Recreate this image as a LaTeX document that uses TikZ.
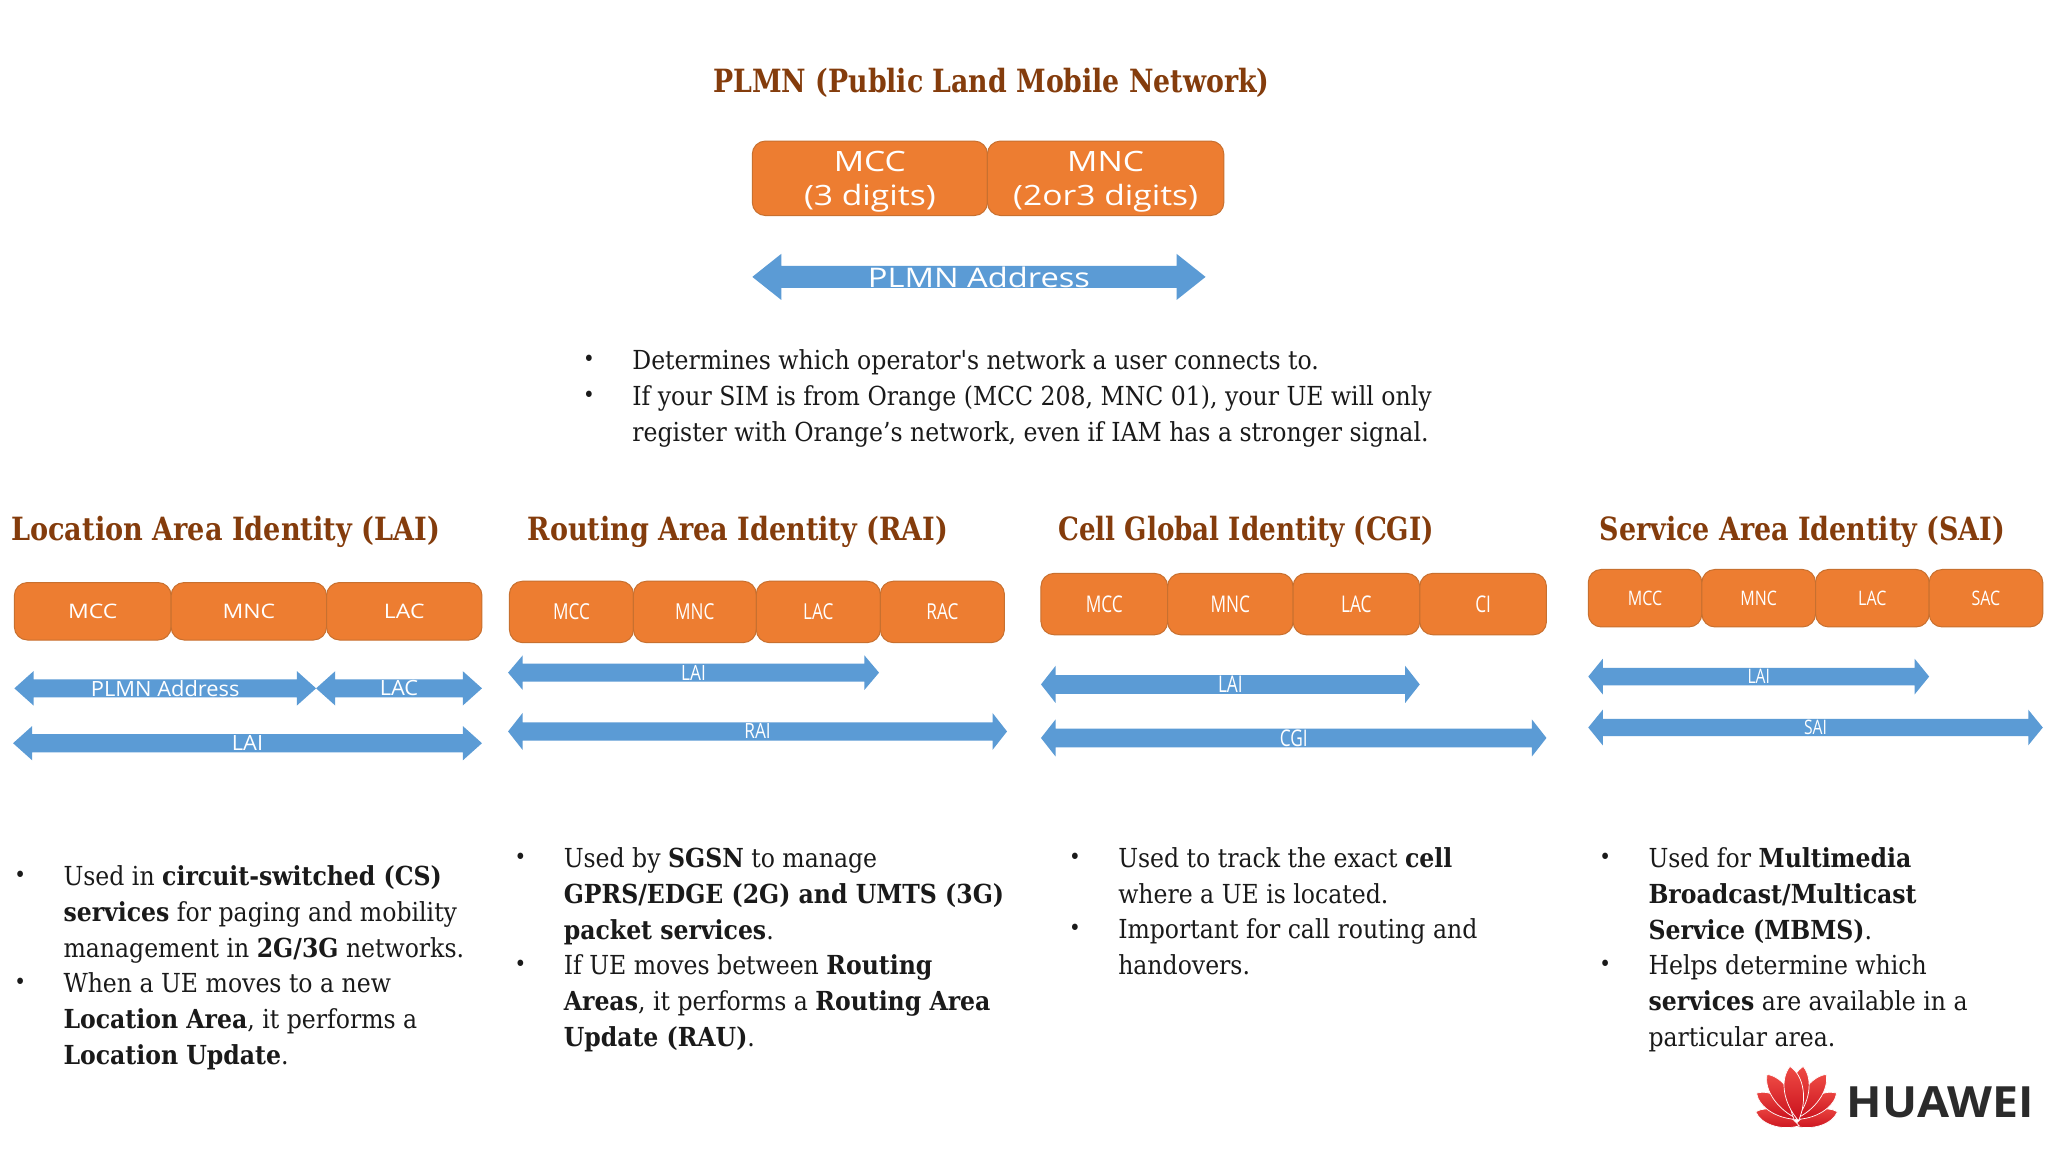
\documentclass[tikz,border=0pt]{standalone}
\usepackage{fontspec}
\usetikzlibrary{shapes.arrows}
\setmainfont{DejaVu Serif Condensed}[BoldFont={DejaVu Serif Condensed Bold}]
\setsansfont{Open Sans}
\definecolor{boxfill}{HTML}{ED7D31}
\definecolor{boxline}{HTML}{C8702F}
\definecolor{arrowfill}{HTML}{5B9BD5}
\definecolor{headcol}{HTML}{843C0C}
\definecolor{bodycol}{HTML}{1A1A1A}
\definecolor{logored}{HTML}{C9101C}
\definecolor{logotip}{HTML}{EE4A44}
\definecolor{logotext}{HTML}{2B2B2B}
\newcommand{\bodyfont}{\fontsize{26.2}{35.8}\selectfont}
\newcommand{\headfont}{\fontsize{32}{38}\selectfont\bfseries}
\tikzset{
  x=1.306122pt,y=-1.306122pt,
  orangebox/.style={draw=boxline,line width=1pt,fill=boxfill,rounded corners=13pt,inner sep=0pt,text=white,font=\sffamily,align=center},
  dblarrow/.style={shape=double arrow,fill=arrowfill,inner xsep=0pt,draw=none},
  arrowlabel/.style={text=white,font=\sffamily,inner sep=0pt},
  bodytext/.style={anchor=north west,inner sep=0pt,align=left,font=\bodyfont,text=bodycol},
  bulletmark/.style={anchor=base,inner sep=0pt,font=\fontsize{22}{22}\selectfont,text=bodycol},
  headtext/.style={anchor=base west,inner sep=0pt,font=\headfont,text=headcol},
}
% name x1 x2 y1 y2 font xscale text
\newcommand{\bx}[8]{\node[orangebox,minimum width={(#3-#2)*1.306122pt},minimum height={(#5-#4)*1.306122pt}] (#1) at ({(#2+#3)/2},{(#4+#5)/2}) {\fontsize{#6}{#6}\selectfont\scalebox{#7}[1]{#8}};}
% name x1 x2 y halfhead shafthalf headlen fontsize xscale label
\newcommand{\arw}[9]{%
 \pgfmathsetmacro{\tipang}{2*atan(#5/#7)}%
 \node[dblarrow,minimum height={(#3-#2)*1.306122pt},inner ysep={#6*1.306122pt},double arrow head extend={(#5-#6)*1.306122pt},double arrow tip angle=\tipang] (#1) at ({(#2+#3)/2},#4) {};%
 \arwlabel{#1}{#8}{#9}}
\newcommand{\arwlabel}[3]{\def\argA{#1}\def\argB{#2}\def\argC{#3}\arwlabelB}
\newcommand{\arwlabelB}[1]{\node[arrowlabel] (\argA-label) at (\argA.center) {\fontsize{\argB}{\argB}\selectfont\scalebox{\argC}[1]{#1}};}
% name x ybase text
\newcommand{\para}[4]{\node[bulletmark] (#1-b) at ({#2-33},{#3-2.5}) {•};\node[bodytext] (#1) at (#2,{#3-15.2}) {#4};}
\begin{document}
\begin{tikzpicture}
\useasboundingbox (0,0) rectangle (1568,882);
\fill[white] (0,0) rectangle (1568,882);
% Titles
\node[headtext] (titlemain) at (546,71) {\scalebox{.93}[1]{PLMN (Public Land Mobile Network)}};
\node[headtext] (titlelai) at (8.5,414) {\scalebox{.942}[1]{Location Area Identity (LAI)}};
\node[headtext] (titlerai) at (404,414) {\scalebox{.938}[1]{Routing Area Identity (RAI)}};
\node[headtext] (titlecgi) at (810,414) {\scalebox{.91}[1]{Cell Global Identity (CGI)}};
\node[headtext] (titlesai) at (1224.5,414) {\scalebox{.936}[1]{Service Area Identity (SAI)}};
% PLMN
\node[orangebox,minimum width={180*1.306122pt},minimum height={57*1.306122pt},font=\sffamily\fontsize{28}{34}\selectfont] (pmcc) at (666,136.5) {\rule{0pt}{27pt}\scalebox{1.2}[1]{MCC}\\\scalebox{1.2}[1]{(3 digits)}};
\node[orangebox,minimum width={181*1.306122pt},minimum height={57*1.306122pt},font=\sffamily\fontsize{28}{34}\selectfont] (pmnc) at (846.5,136.5) {\rule{0pt}{27pt}\scalebox{1.2}[1]{MNC}\\\scalebox{1.2}[1]{(2or3 digits)}};
\arw{parrow}{576}{923}{212}{17.5}{8.3}{22}{27}{1.21}{PLMN Address}
\para{p1}{484}{283}{Determines which operator\textquotesingle s network a user connects to.}
\para{p2}{484}{310.5}{If your SIM is from Orange (MCC 208, MNC 01), your UE will only\\register with Orange’s network, even if IAM has a stronger signal.}
% LAI
\bx{lmcc}{11}{131}{446}{490}{20}{1.15}{MCC}
\bx{lmnc}{131}{250}{446}{490}{20}{1.15}{MNC}
\bx{llac}{250}{369}{446}{490}{20}{1.15}{LAC}
\arw{lplmn}{11}{242}{527}{13}{6.8}{14.5}{21}{1.04}{PLMN Address}
\arw{llacar}{242}{369}{527}{13}{6.8}{14.5}{21}{1.04}{LAC}
\arw{llai}{10}{369}{569}{13}{6.8}{14.5}{21}{1.04}{LAI}
\para{l1}{48.5}{678}{Used in \textbf{circuit-switched (CS)}\\\textbf{services} for paging and mobility\\management in \textbf{2G/3G} networks.}
\para{l2}{48.5}{760}{When a UE moves to a new\\\textbf{Location Area}, it performs a\\\textbf{Location Update}.}
% RAI
\bx{rmcc}{390}{485}{445}{492}{22}{.78}{MCC}
\bx{rmnc}{485}{579}{445}{492}{22}{.78}{MNC}
\bx{rlac}{579}{674}{445}{492}{22}{.78}{LAC}
\bx{rrac}{674}{769}{445}{492}{22}{.78}{RAC}
\arw{rlai}{389}{673}{515}{13}{6.8}{11}{21}{.82}{LAI}
\arw{rrai}{389}{771}{560}{14}{6.8}{11}{21}{.82}{RAI}
\para{r1}{431.5}{664}{Used by \textbf{SGSN} to manage\\\textbf{GPRS/EDGE (2G) and UMTS (3G)}\\\textbf{packet services}.}
\para{r2}{431.5}{746}{If UE moves between \textbf{Routing}\\\textbf{Areas}, it performs a \textbf{Routing Area}\\\textbf{Update (RAU)}.}
% CGI
\bx{cmcc}{797}{894}{439}{486}{23}{.75}{MCC}
\bx{cmnc}{894}{990}{439}{486}{23}{.75}{MNC}
\bx{clac}{990}{1087}{439}{486}{23}{.75}{LAC}
\bx{cci}{1087}{1184}{439}{486}{23}{.75}{CI}
\arw{clai}{797}{1087}{524}{14}{7}{11}{23}{.75}{LAI}
\arw{ccgi}{797}{1184}{565}{14}{7}{11}{23}{.75}{CGI}
\para{c1}{856}{664}{Used to track the exact \textbf{cell}\\where a UE is located.}
\para{c2}{856}{718.5}{Important for call routing and\\handovers.}
% SAI
\bx{smcc}{1216}{1303}{436}{480}{20}{.8}{MCC}
\bx{smnc}{1303}{1390}{436}{480}{20}{.8}{MNC}
\bx{slac}{1390}{1477}{436}{480}{20}{.8}{LAC}
\bx{ssac}{1477}{1564}{436}{480}{20}{.8}{SAC}
\arw{slai}{1216}{1477}{518}{13.5}{6.5}{11}{20}{.78}{LAI}
\arw{ssai}{1216}{1564}{557}{13.5}{6.5}{11}{20}{.78}{SAI}
\para{s1}{1262}{664}{Used for \textbf{Multimedia}\\\textbf{Broadcast/Multicast}\\\textbf{Service (MBMS)}.}
\para{s2}{1262}{746}{Helps determine which\\\textbf{services} are available in a\\particular area.}
% Logo
\foreach \ang/\len/\wid/\ox/\oy in {-72/35/8/-2/4,72/35/8/2/4,-58/38/8.5/-1.5/-1,58/38/8.5/1.5/-1,-35/42/9/-1.5/-1,35/42/9/1.5/-1,-9/42/9.5/-1.5/0,9/42/9.5/1.5/0}{
  \begin{scope}[shift={(1375.5+\ox,858+\oy)},rotate=\ang]
    \path[draw=white,line width=.7pt,top color=logotip,bottom color=logored] (0,0) .. controls (\wid,-.35*\len) and (\wid,-.8*\len) .. (0,-\len)
       .. controls (-\wid,-.8*\len) and (-\wid,-.35*\len) .. (0,0) -- cycle;
  \end{scope}
}
\node[inner sep=0pt,text=logotext,font=\sffamily\bfseries\fontsize{43}{43}\selectfont] (logoword) at (1485.5,844) {\scalebox{1.08}[1]{HUAWEI}};
\end{tikzpicture}
\end{document}
